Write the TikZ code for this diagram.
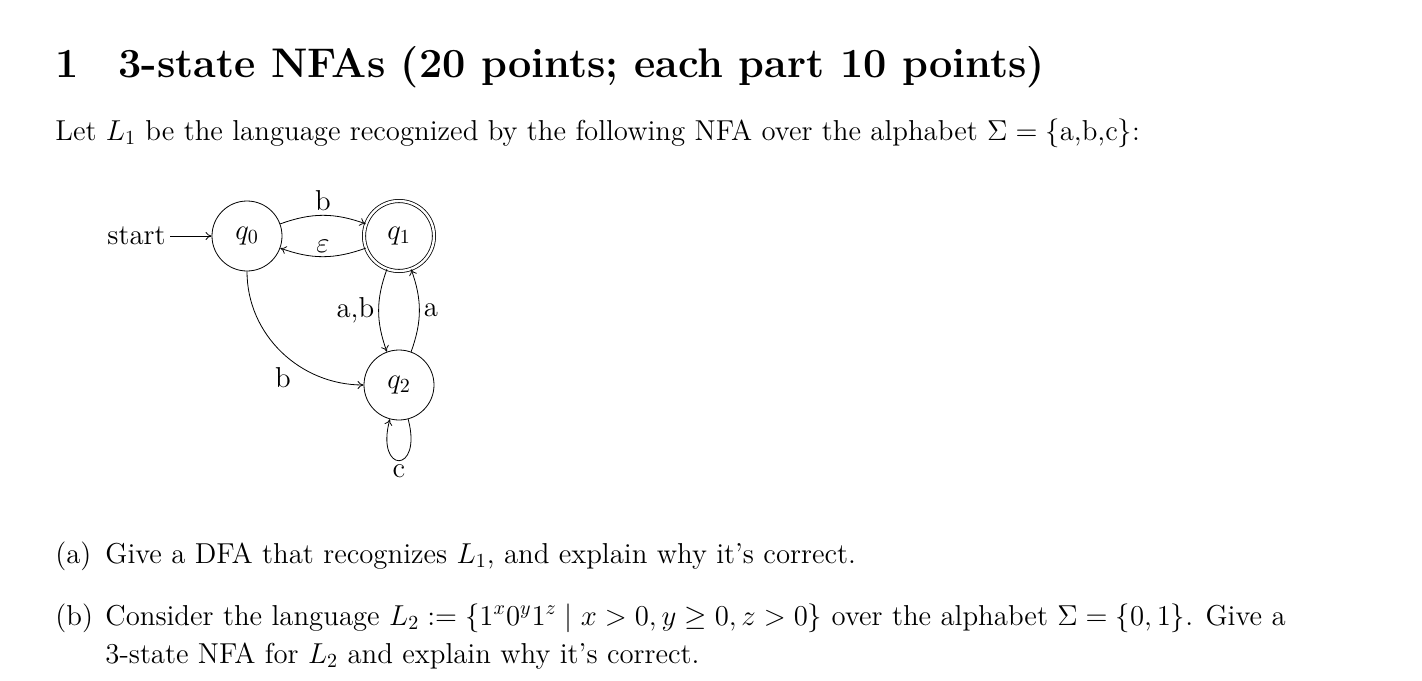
\documentclass[tikz,border=0pt]{standalone}
\usetikzlibrary{automata,arrows.meta}
\begin{document}
\begin{tikzpicture}[x=0.5pt,y=-0.5pt,
  txt/.style={anchor=base west,inner sep=0pt,font=\fontsize{14.4}{17}\selectfont},
  ttl/.style={anchor=base west,inner sep=0pt,font=\fontsize{20.7}{24}\selectfont\bfseries},
  st/.style={circle,draw,minimum size=35pt,inner sep=0pt,font=\fontsize{14.4}{17}\selectfont},
  lab/.style={font=\fontsize{14.4}{17}\selectfont,inner sep=2pt},
  >={To[length=3pt,width=4pt]}]
\useasboundingbox (0,0) rectangle (1422,680);
\node[ttl] (t1) at (55,77) {1};
\node[ttl] (t2) at (118,77) {3-state NFAs (20 points; each part 10 points)};
\node[txt] (l1) at (55,140) {Let $L_1$ be the language recognized by the following NFA over the alphabet $\Sigma=\{$a,b,c$\}$:};
\node[st] (q0) at (247,236) {$q_0$};
\node[st,double,double distance=1.2pt] (q1) at (399,236) {$q_1$};
\node[st] (q2) at (399,385) {$q_2$};
\node[lab,anchor=east] (s) at (170,236) {start};
\draw[->] (s) -- (q0);
\draw[->] (q0) to[bend left=20] node[lab,above] {b} (q1);
\draw[->] (q1) to[bend left=20] node[lab,above] {$\varepsilon$} (q0);
\draw[->] (q1) to[bend right=20] node[lab,left] {a,b} (q2);
\draw[->] (q2) to[bend right=20] node[lab,right] {a} (q1);
\draw[->] (q0) to[out=-90,in=180] node[lab,below left,pos=0.6] {b} (q2);
\draw[->] (q2) to[loop below,looseness=8] node[lab,below] {c} (q2);
\node[txt] (a1) at (55,563) {(a)};
\node[txt] (a2) at (105,563) {Give a DFA that recognizes $L_1$, and explain why it's correct.};
\node[txt] (b1) at (55,625) {(b)};
\node[txt] (b2) at (105,625) {Consider the language $L_2:=\{1^x0^y1^z\mid x>0,y\geq0,z>0\}$ over the alphabet $\Sigma=\{0,1\}$. Give a};
\node[txt] (b3) at (105,663) {3-state NFA for $L_2$ and explain why it's correct.};
\end{tikzpicture}
\end{document}
